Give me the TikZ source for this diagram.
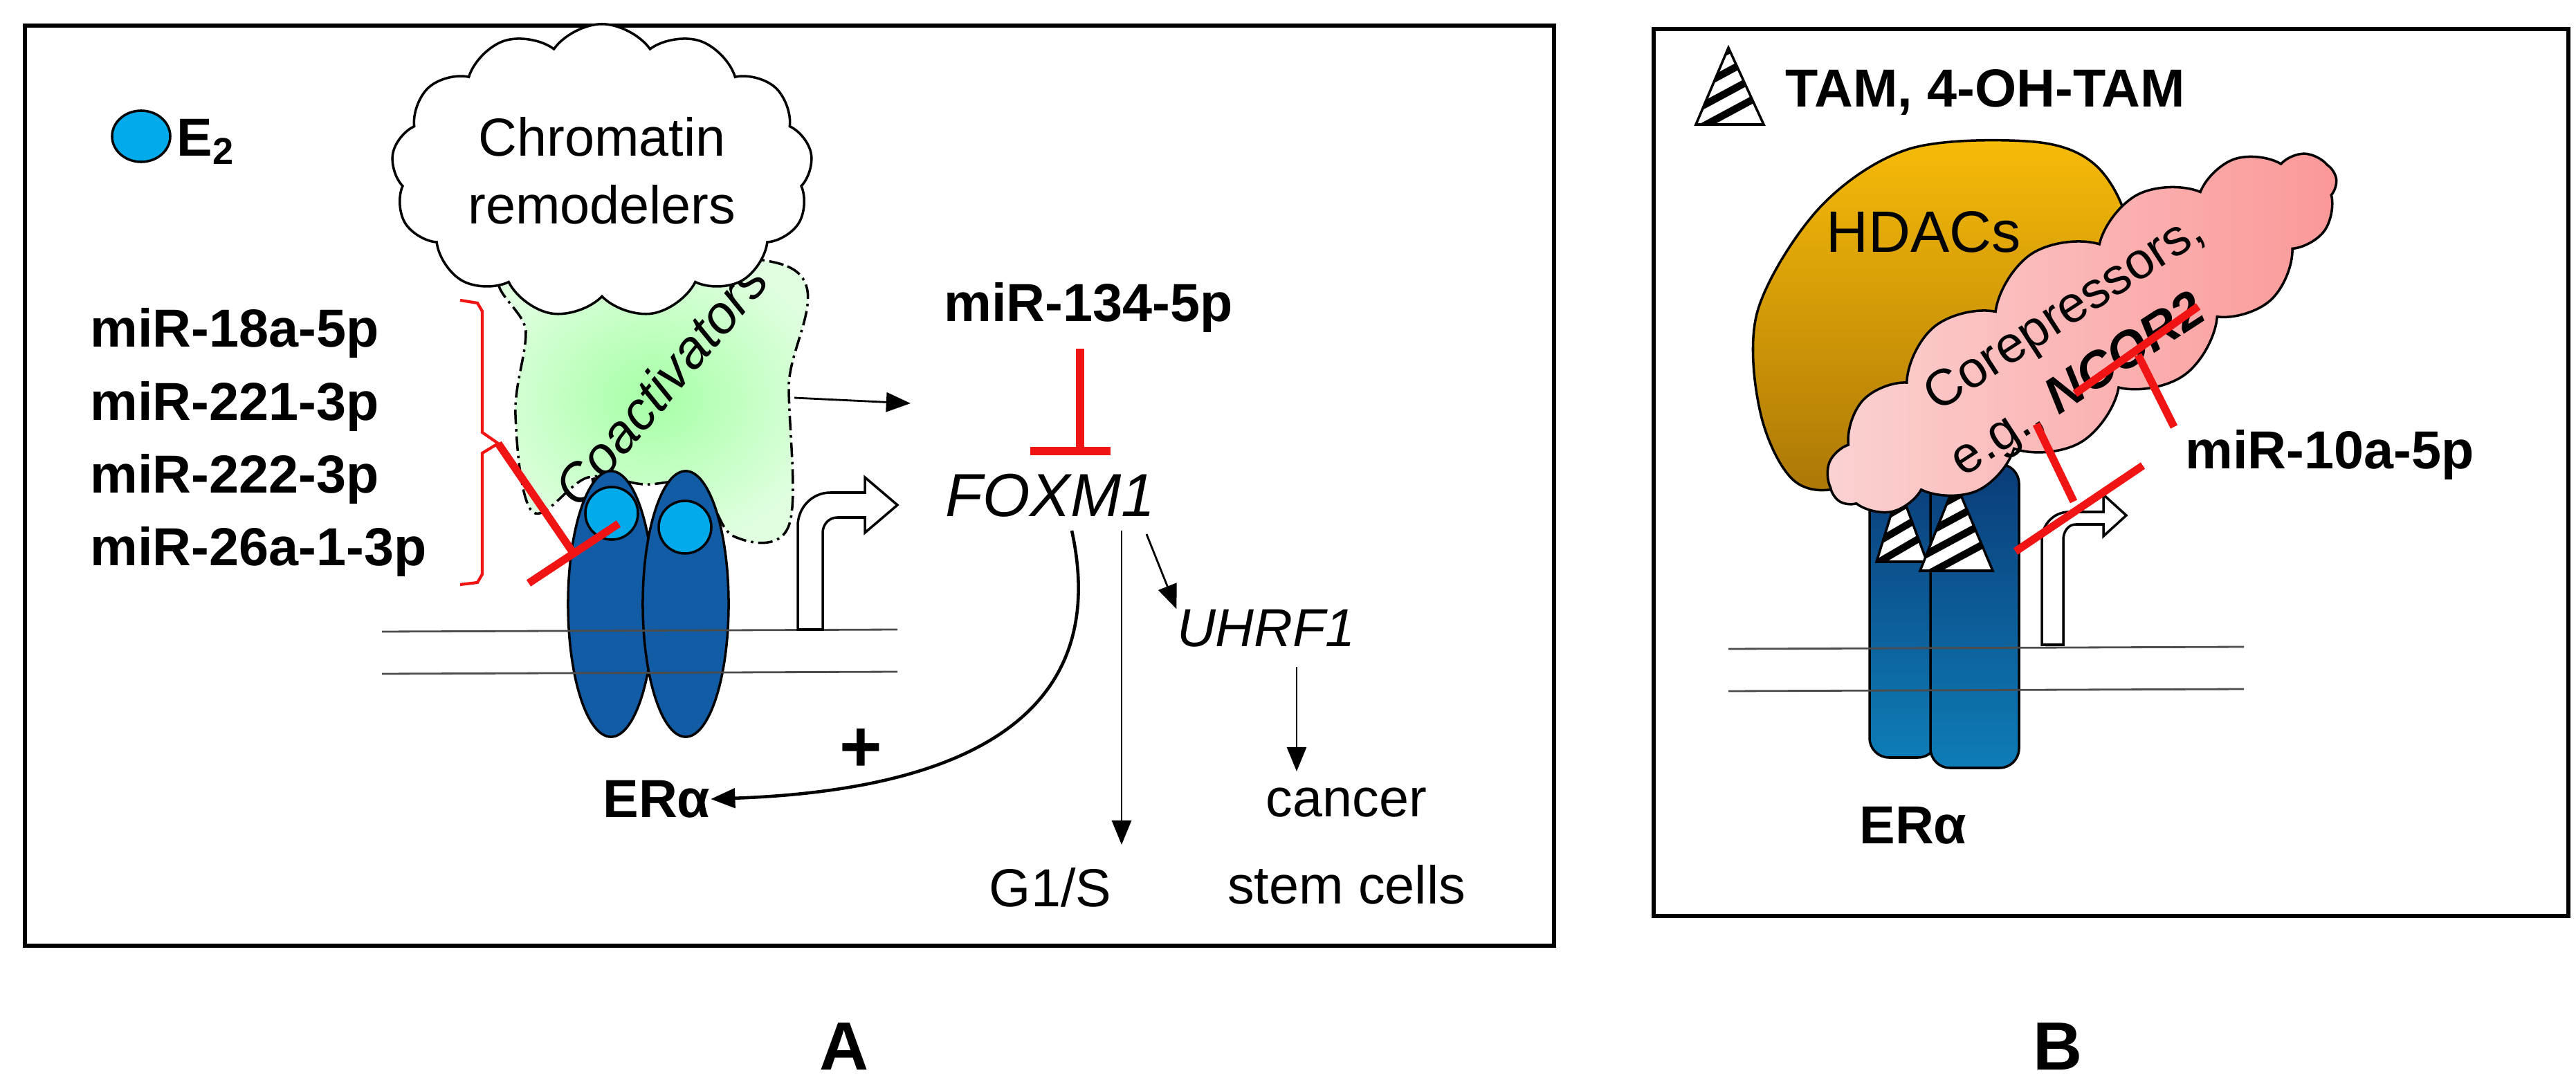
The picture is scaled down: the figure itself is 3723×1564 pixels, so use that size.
\documentclass[tikz,border=0pt]{standalone}
\usepackage{fontspec}
\setmainfont{Liberation Sans}
\usetikzlibrary{shapes.symbols,arrows.meta,patterns}
\definecolor{erblue}{RGB}{18,92,165}
\definecolor{erdark}{RGB}{10,60,120}
\definecolor{e2blue}{RGB}{0,170,235}
\definecolor{inhred}{RGB}{240,20,20}
\definecolor{pinkc}{RGB}{250,190,190}
\definecolor{orangec}{RGB}{245,170,10}
\tikzset{
  txt/.style={font=\fontsize{22}{26}\selectfont, inner sep=0pt},
  btxt/.style={txt, font=\fontsize{22}{26}\selectfont\bfseries},
  inh/.style={draw=inhred, line width=3.2pt},
  arr/.style={-{Triangle[length=10pt,width=8pt]}, line width=0.8pt},
  memb/.style={draw=black!70, line width=0.8pt},
  box/.style={draw, line width=1.6pt},
}
\begin{document}
\begin{tikzpicture}[x=0.01cm,y=-0.01cm]
\useasboundingbox (0,0) rectangle (3723,1564);
% ---------- panel A ----------
\draw[box] (36,37) rectangle (2246,1367);
\node[font=\fontsize{28}{32}\selectfont\bfseries] (labA) at (1220,1513) {A};
\node[font=\fontsize{28}{32}\selectfont\bfseries] (labB) at (2974,1513) {B};

% E2 legend
\draw[fill=e2blue, line width=1pt] (204,197) ellipse (0.42cm and 0.37cm);
\node[btxt, anchor=west] (e2) at (255,205) {E\textsubscript{2}};

% coactivator blob
\path[draw, line width=1pt, dash pattern=on 6pt off 2pt on 1pt off 2pt, inner color=green!35, outer color=green!12]
  plot[smooth cycle, tension=0.6] coordinates {(745,390) (1138,385) (1140,560) (1140,760) (1060,775) (1010,700) (930,700) (850,690) (770,740) (745,600) (760,480)};
\node[txt, rotate=50, font=\fontsize{22}{26}\selectfont\itshape] (coact) at (955,555) {Coactivators};

% chromatin remodelers cloud
\node[cloud, cloud puffs=13, cloud puff arc=110, draw, fill=white, line width=1pt,
  minimum width=5.2cm, minimum height=3.3cm, aspect=1.6, align=center,
  font=\fontsize{22}{26}\selectfont] (crem) at (870,247) {Chromatin\\[2pt]remodelers};

% ER alpha ovals
\draw[fill=erblue, line width=1pt] (883,873) ellipse (0.62cm and 1.92cm);
\draw[fill=erblue, line width=1pt] (991,873) ellipse (0.62cm and 1.92cm);
\draw[fill=e2blue, line width=1pt] (884,742) circle (0.38cm);
\draw[fill=e2blue, line width=1pt] (990,762) circle (0.38cm);

% membrane
\draw[memb] (552,913) -- (1297,910);
\draw[memb] (552,974) -- (1297,971);

% hollow bent arrow
\draw[fill=white, line width=1pt] (1153,910) -- (1153,760) to[out=90,in=180] (1200,712) -- (1250,712) -- (1250,690) -- (1297,730) -- (1250,770) -- (1250,748) -- (1210,748) to[out=180,in=90] (1189,770) -- (1189,910) -- cycle;

% miRNA labels and bracket
\node[btxt, anchor=west] (m18) at (130,482) {miR-18a-5p};
\node[btxt, anchor=west] (m221) at (130,587) {miR-221-3p};
\node[btxt, anchor=west] (m222) at (130,692) {miR-222-3p};
\node[btxt, anchor=west] (m26) at (130,797) {miR-26a-1-3p};
\draw[inhred, line width=1.2pt] (665,434) -- (690,438) -- (697,450) -- (697,625) -- (720,641) -- (697,655) -- (697,830) -- (690,842) -- (665,845);
\coordinate (btip) at (720,641);
\coordinate (inhA) at (829,800);
\draw[inh] (btip) -- (inhA);
\draw[inh] (764,843) -- (894,757);

% coactivator arrow
\coordinate (coA) at (1148,575);
\coordinate (coB) at (1316,583);
\draw[arr] (coA) -- (coB);

% FOXM1 and miR-134
\node[btxt] (m134) at (1573,444) {miR-134-5p};
\node[txt, font=\fontsize{25}{28}\selectfont\itshape] (foxm1) at (1518,716) {FOXM1};
\coordinate (t134) at (1561,504);
\coordinate (b134) at (1561,652);
\draw[inh] (t134) -- (b134);
\draw[inh] (1489,652) -- (1605,652);

\node[txt, font=\fontsize{22}{26}\selectfont\itshape] (uhrf1) at (1830,908) {UHRF1};
\node[txt] (g1s) at (1518,1283) {G1/S};
\node[txt] (cancer) at (1946,1160) {cancer};
\node[txt] (stem) at (1946,1279) {stem cells};
\node[btxt] (eraA) at (949,1155) {ERα};
\node[font=\fontsize{30}{32}\selectfont\bfseries] (plus) at (1244,1085) {+};

\draw[arr, line width=1.3pt] (1549,767) .. controls (1600,1000) and (1450,1140) .. (eraA.east);
\draw[arr] (1621,767) -- (1621,1221);
\draw[arr] (1657,772) -- (uhrf1.north west);
\coordinate (usb) at (1874,964);
\draw[arr] (usb) -- (1874,1115);

% ---------- panel B ----------
\draw[box] (2390,42) rectangle (3712,1324);

% legend triangle
\begin{scope}
  \clip (2451,180) -- (2498,69) -- (2549,180) -- cycle;
  \fill[white] (2440,60) rectangle (2560,190);
  \foreach \k in {0,...,6} \fill[black] (2440,200-\k*30) -- ++(0,-12) -- ++(130,-70) -- ++(0,12) -- cycle;
\end{scope}
\draw[line width=1pt] (2451,180) -- (2498,69) -- (2549,180) -- cycle;
\node[btxt, anchor=west] (tam) at (2580,133) {TAM, 4-OH-TAM};

% HDACs blob
\path[draw, line width=1pt, top color=orangec!80!yellow, bottom color=orangec!70!black]
  plot[smooth cycle, tension=0.55] coordinates {(2630,300) (2760,215) (2940,205) (3030,240) (3075,330) (3050,450) (2900,560) (2700,690) (2600,700) (2545,600) (2540,450)};
\node[txt, font=\fontsize{24}{28}\selectfont] (hdac) at (2780,335) {HDACs};

% ER rectangles
\draw[rounded corners=8pt, line width=1pt, top color=erdark, bottom color=erblue!80!cyan] (2702,676) rectangle (2800,1095);
\begin{scope}
  \clip (2712,812) -- (2745,705) -- (2785,812) -- cycle;
  \fill[white] (2712,690) rectangle (2785,812);
  \foreach \k in {0,...,6} \fill[black] (2692,832-\k*30) -- ++(0,-12) -- ++(120,-70) -- ++(0,12) -- cycle;
\end{scope}
\draw[line width=1pt] (2712,812) -- (2745,705) -- (2785,812) -- cycle;
\draw[rounded corners=8pt, line width=1pt, top color=erdark, bottom color=erblue!80!cyan] (2790,671) rectangle (2918,1110);
\begin{scope}
  \clip (2775,825) -- (2826,697) -- (2880,825) -- cycle;
  \fill[white] (2770,690) rectangle (2885,830);
  \foreach \k in {0,...,7} \fill[black] (2760,850-\k*30) -- ++(0,-12) -- ++(130,-70) -- ++(0,12) -- cycle;
\end{scope}
\draw[line width=1pt] (2775,825) -- (2826,697) -- (2880,825) -- cycle;

% corepressors cloud
\node[cloud, cloud puffs=15, cloud puff arc=100, draw, line width=1pt, rotate=33,
  minimum width=8.6cm, minimum height=2.7cm, aspect=3.2,
  left color=pinkc!70!white, right color=pinkc!80!red] (corep) at (3010,480) {};
\node[txt, rotate=33, font=\fontsize{21}{25}\selectfont] (corept) at (2985,455) {Corepressors,};
\node[txt, rotate=33, font=\fontsize{21}{25}\selectfont] (egt) at (3005,560) {e.g., \textbf{\textit{NCOR2}}};

% membrane B
\draw[memb] (2498,938) -- (3243,935);
\draw[memb] (2498,999) -- (3243,996);

% hollow bent arrow B
\draw[fill=white, line width=1pt] (2951,932) -- (2951,780) to[out=90,in=180] (2990,740) -- (3040,740) -- (3040,715) -- (3073,745) -- (3040,775) -- (3040,758) -- (3000,758) to[out=180,in=90] (2982,780) -- (2982,932) -- cycle;

% miR-10a-5p inhibitions
\node[btxt] (m10) at (3367,657) {miR-10a-5p};
\coordinate (l1a) at (2943,613);
\coordinate (l1b) at (2997,725);
\coordinate (l2a) at (3142,617);
\coordinate (l2b) at (3090,513);
\draw[inh] (l1a) -- (l1b);
\draw[inh] (2913,797) -- (3097,673);
\draw[inh] (l2a) -- (l2b);
\draw[inh] (2999,569) -- (3177,443);

\node[btxt] (eraB) at (2765,1193) {ERα};
\end{tikzpicture}
\end{document}
